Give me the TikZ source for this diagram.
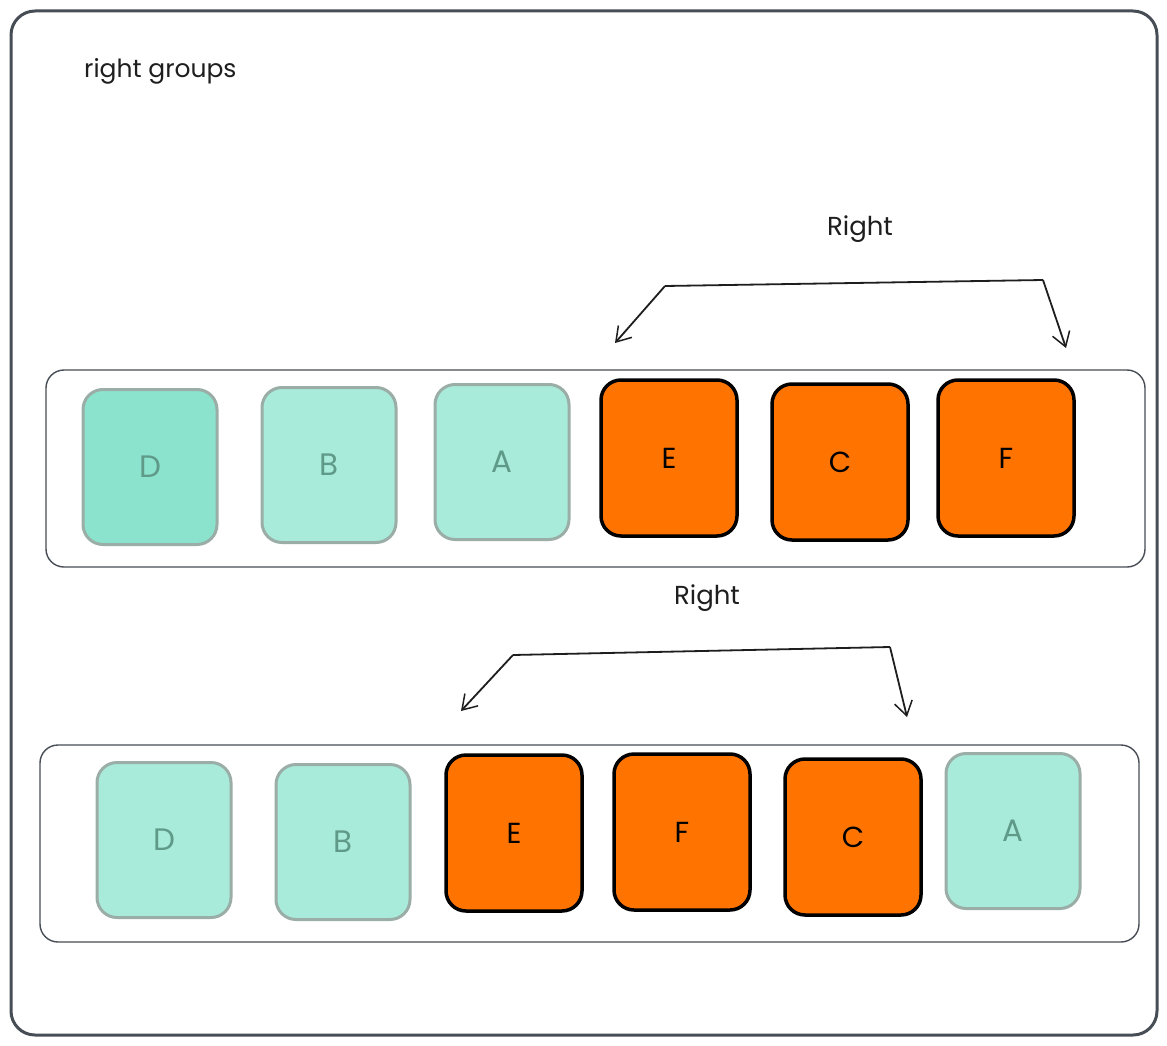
\documentclass[tikz,border=0pt]{standalone}
\usepackage{fontspec}
\setmainfont{Poppins}
\usetikzlibrary{arrows.meta}
\definecolor{frame}{HTML}{474D55}
\definecolor{orangefill}{HTML}{FF7400}
\definecolor{mintlight}{HTML}{A9EBDA}
\definecolor{mintdark}{HTML}{8BE3CE}
\definecolor{mintline}{HTML}{9AADA6}
\definecolor{minttext}{HTML}{5F9A88}
\definecolor{ink}{HTML}{1E1E1E}
\tikzset{
  outerframe/.style={draw=frame,line width=3pt,rounded corners=24pt},
  groupbox/.style={draw=frame,line width=1.4pt,rounded corners=18pt},
  mintbox/.style={draw=mintline,line width=3pt,rounded corners=20pt,fill=mintlight,
    minimum width=134pt,minimum height=155pt,inner sep=0pt,
    text=minttext,font=\fontsize{31}{31}\selectfont},
  orangebox/.style={draw=black,line width=3.5pt,rounded corners=20pt,fill=orangefill,
    minimum width=136pt,minimum height=156pt,inner sep=0pt,
    text=black,font=\fontsize{29}{29}\selectfont},
  lbl/.style={text=ink,font=\fontsize{26}{26}\selectfont,inner sep=0pt},
  flow/.style={draw=ink,line width=1.8pt},
  arr/.style={flow,-{Straight Barb[length=14pt,width=18pt,line width=1.5pt]}},
}
\begin{document}
\begin{tikzpicture}[x=1pt,y=-1pt]
\useasboundingbox (0,0) rectangle (1167,1046);
\fill[white] (0,0) rectangle (1167,1046);
\draw[outerframe] (11,11) rectangle (1157,1035);
\node[lbl,anchor=west,font=\fontsize{25}{25}\selectfont] (title) at (84,71) {right groups};

% top group
\draw[groupbox] (46,370) rectangle (1145,567);
\node[mintbox,fill=mintdark] (d1) at (150,467) {D};
\node[mintbox] (b1) at (329,465) {B};
\node[mintbox] (a1) at (502,462) {A};
\node[orangebox] (e1) at (669,458) {E};
\node[orangebox] (c1) at (840,462) {C};
\node[orangebox] (f1) at (1006,458) {F};

\node[lbl] (r1) at (860,229) {Right};
\coordinate (r1s) at (1043,280);
\coordinate (r1k) at (665,286);
\coordinate (r1l) at (615,343);
\coordinate (r1r) at (1066,348);
\draw[flow] (r1s) -- (r1k);
\draw[arr] (r1k) -- (r1l);
\draw[arr] (r1s) -- (r1r);

% bottom group
\draw[groupbox] (40,745) rectangle (1139,942);
\node[mintbox] (d2) at (164,840) {D};
\node[mintbox] (b2) at (343,842) {B};
\node[orangebox] (e2) at (514,833) {E};
\node[orangebox] (f2) at (682,832) {F};
\node[orangebox] (c2) at (853,837) {C};
\node[mintbox] (a2) at (1013,831) {A};

\node[lbl] (r2) at (707,598) {Right};
\coordinate (r2s) at (890,647);
\coordinate (r2k) at (513,655);
\coordinate (r2l) at (461,711);
\coordinate (r2r) at (907,717);
\draw[flow] (r2s) -- (r2k);
\draw[arr] (r2k) -- (r2l);
\draw[arr] (r2s) -- (r2r);
\end{tikzpicture}
\end{document}
